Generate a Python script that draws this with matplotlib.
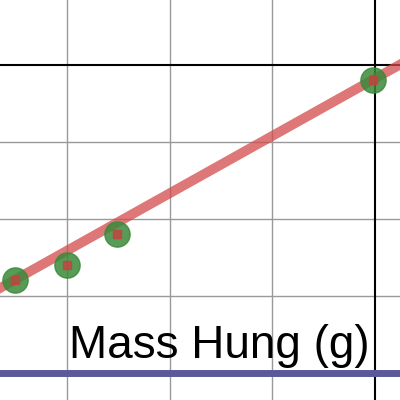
import matplotlib
matplotlib.use("Agg")
import matplotlib.pyplot as plt
import numpy as np

mass_x = [0.49, 1.0, 1.49, 3.985]
length_y = [1.21, 1.40, 1.81, 3.81]
fit_slope = 0.744
fit_intercept = 0.845
axis_label = "Mass Hung (g)"

fig = plt.figure(figsize=(4, 4), dpi=100)
ax = fig.add_axes([0, 0, 1, 1])
ax.set_xlim(0.346, 4.248)
ax.set_ylim(-0.351, 4.844)
for gx in [1, 2, 3]:
    ax.axvline(gx, color="#999999", lw=1, zorder=0)
for gy in [1, 2, 3]:
    ax.axhline(gy, color="#999999", lw=1, zorder=0)
ax.axvline(4, color="black", lw=1.5, zorder=1)
ax.axhline(4, color="black", lw=1.5, zorder=1)
ax.axhline(0, color="#5a5a9a", lw=5, zorder=1)
xs = np.array(ax.get_xlim())
ax.plot(xs, fit_intercept + fit_slope * xs, color="#d44a4a", alpha=0.75, lw=7, zorder=2)
ax.scatter(mass_x, length_y, s=330, color="#3a8a3a", alpha=0.85, zorder=3)
ax.scatter(mass_x, length_y, s=40, marker="s", color="#c84040", alpha=0.8, zorder=4)
ax.text(2.49, 0.19, axis_label, fontsize=33, ha="center", va="baseline", zorder=5,
        family="Liberation Sans")
ax.axis("off")
fig.savefig("out.png")
